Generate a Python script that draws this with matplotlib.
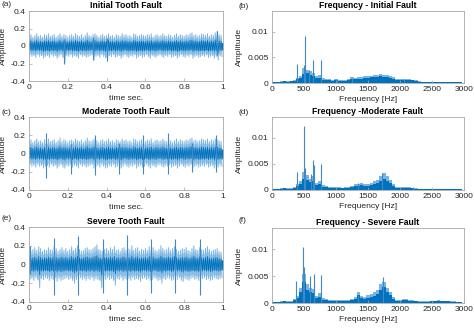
import numpy as np
import matplotlib
matplotlib.use("Agg")
import matplotlib.pyplot as plt

plt.rcParams['font.family'] = ['Liberation Sans', 'DejaVu Sans']

# ---------------- data ----------------
titles_time = ["Initial Tooth Fault", "Moderate Tooth Fault", "Severe Tooth Fault"]
titles_freq = ["Frequency - Initial Fault", "Frequency -Moderate Fault", "Frequency - Severe Fault"]
panel_labels = ["(a)", "(b)", "(c)", "(d)", "(e)", "(f)"]
time_ticks = [0, 0.2, 0.4, 0.6, 0.8, 1]
time_tick_labels = ["0", "0.2", "0.4", "0.6", "0.8", "1"]
amp_ticks = [-0.4, -0.2, 0, 0.2, 0.4]
amp_tick_labels = ["-0.4", "-0.2", "0", "0.2", "0.4"]
freq_ticks = [0, 500, 1000, 1500, 2000, 2500, 3000]
freq_tick_labels = ["0", "500", "1000", "1500", "2000", "2500", "3000"]
spec_ticks = [0, 0.005, 0.01]
spec_tick_labels = ["0", "0.005", "0.01"]

# time-signal envelopes (hundredths), one value per 0.01 s
a_up = [11,13,10,12,14,11,12,10,13,12, 14,11,12,13,10,12,14,11,13,12,
        10,12,13,11,14,12,11,13,10,12, 15,12,11,13,14,12,10,12,13,11,
        12,14,11,12,10,13,12,11,14,12, 13,11,12,10,14,13,11,12,13,12,
        11,13,12,14,10,12,13,11,12,14, 12,11,13,12,10,12,14,11,13,12,
        11,13,12,14,15,12,13,11,12,14, 13,12,14,11,13,12,15,17,13,12]
a_lo = [10,12,11,13,10,12,11,14,12,11, 13,10,12,11,14,12,10,13,19,11,
        12,10,13,11,12,14,10,12,11,13, 12,11,10,16,12,11,13,10,12,14,
        17,11,12,10,13,12,11,14,12,10, 12,13,11,12,10,14,12,11,13,12,
        10,12,14,11,12,13,11,10,12,13, 11,12,10,13,12,11,14,12,10,12,
        13,11,12,10,14,12,11,13,12,11, 12,10,13,12,11,14,12,16,11,12]
c_up = [13,15,12,14,16,13,14,12,15,14, 16,13,14,15,12,14,17,13,15,14,
        12,14,15,13,16,14,13,15,12,14, 17,14,13,15,16,14,12,14,15,13,
        14,16,13,14,12,15,14,13,16,14, 15,13,14,12,16,15,13,14,15,14,
        13,15,14,16,12,14,15,13,14,16, 14,13,15,14,12,14,16,13,15,14,
        13,15,14,16,17,14,15,13,14,16, 15,14,16,13,15,14,16,15,14,13]
c_lo = [12,14,13,15,12,14,13,16,14,13, 15,12,14,13,16,14,12,15,16,13,
        14,12,15,13,14,16,12,14,13,15, 14,13,12,16,14,13,15,12,14,16,
        15,13,14,12,15,14,13,16,14,12, 14,15,13,14,12,16,14,13,15,14,
        12,14,16,13,14,15,13,12,14,15, 13,14,12,15,14,13,16,14,12,14,
        15,13,14,12,16,14,13,15,14,13, 14,12,15,14,13,16,14,15,13,14]
e_up = [20,14,16,18,15,19,17,14,16,15, 18,16,15,20,17,14,16,18,15,17,
        14,16,19,15,17,20,16,14,15,17, 18,16,15,17,19,21,16,15,14,16,
        17,15,18,16,19,15,16,14,17,18, 15,17,16,20,15,17,18,14,16,15,
        17,15,19,16,18,15,14,16,20,17, 15,16,18,15,17,19,16,14,15,17,
        16,18,15,14,17,20,16,15,18,16, 15,17,19,16,14,15,16,17,14,13]
e_lo = [16,15,17,14,16,25,15,16,14,15, 17,15,16,14,18,15,17,16,15,14,
        16,15,17,20,16,15,14,16,15,17, 15,16,14,17,15,16,17,25,15,16,
        14,16,15,17,22,15,16,14,17,15, 16,15,17,14,16,15,16,18,15,14,
        16,15,17,16,14,15,17,16,20,15, 16,14,15,17,16,15,16,14,17,18,
        15,16,17,15,14,16,15,17,16,15, 14,16,15,17,16,14,15,16,15,14]
# dark core half-width (hundredths), one value per 0.05 s
a_core = [4,4,5,4,4,5,4,4,5,4,4,5,4,4,4,5,4,4,5,4,4]
c_core = [5,4,5,5,4,5,5,4,5,5,4,5,5,4,5,5,4,5,5,4,5]
e_core = [5,5,6,5,5,6,5,5,6,5,5,6,5,5,6,5,5,6,5,5,5]
# impulse spikes (time s, upper hundredths, lower hundredths)
a_spk_t = [0.18, 0.33, 0.40, 0.97]
a_spk_up = [8, 10, 9, 17]
a_spk_lo = [20, 16, 17, 10]
c_spk_t = [0.09, 0.215, 0.34, 0.465, 0.59, 0.715, 0.84, 0.965]
c_spk_up = [22, 10, 20, 12, 20, 22, 12, 20]
c_spk_lo = [27, 23, 24, 22, 22, 22, 20, 20]
e_spk_t = [0.005, 0.13, 0.255, 0.38, 0.505, 0.63, 0.755, 0.88]
e_spk_up = [20, 28, 30, 27, 31, 27, 27, 27]
e_spk_lo = [10, 32, 33, 30, 33, 30, 30, 32]

# spectra (units 1e-4), one bin per 50 Hz from 0 to 3000 Hz
b_dark = [1,1,1,2,3,2,3,4,7,9,18,20,15,13,9,10,6,5,5,3,5,4,3,4,5,8,7,8,8,10,
          10,11,12,12,13,12,11,10,8,6,5,6,6,5,5,4,2,2,1,1,1,1,1,1,1,1,1,1,1,1,0]
b_light = [1,1,2,3,4,3,4,6,10,14,30,26,24,20,14,15,9,8,7,5,7,6,5,6,7,11,10,11,11,13,
           13,14,15,16,17,16,15,13,11,8,7,8,8,7,6,5,3,2,2,1,1,1,1,1,1,1,1,1,1,1,0]
b_spk_f = [390, 505, 515, 580, 645, 770, 1010, 1250, 2070]
b_spk_a = [37, 35, 92, 25, 45, 44, 8, 10, 8]
d_dark = [1,1,1,2,3,2,2,4,8,12,22,20,15,18,9,12,6,5,4,3,4,3,3,3,4,5,7,8,9,8,
          8,9,11,13,17,22,17,13,8,3,3,4,4,4,3,2,1,1,1,1,1,1,1,1,1,1,1,1,1,1,0]
d_light = [1,1,2,3,4,3,3,6,12,18,34,28,22,26,14,18,9,7,6,5,6,5,4,5,6,8,11,12,14,11,
           12,14,17,20,27,33,26,20,12,5,5,6,6,6,4,3,2,2,1,1,1,1,1,1,1,1,1,1,1,1,0]
d_spk_f = [385, 500, 510, 610, 640, 650, 770, 1340, 1720, 2200]
d_spk_a = [34, 123, 43, 31, 58, 47, 50, 13, 33, 5]
f_dark = [1,1,1,2,3,2,2,5,10,20,40,25,20,18,10,12,6,5,4,3,4,4,3,4,4,5,8,15,10,8,
          10,12,14,16,25,30,20,15,8,4,4,5,5,4,3,3,2,2,2,2,3,3,4,3,3,3,2,2,1,1,0]
f_light = [1,1,2,3,4,3,4,7,14,28,55,35,28,26,14,18,9,7,6,5,6,6,5,6,6,8,12,20,14,12,
           15,17,20,24,35,40,28,21,12,6,6,8,7,6,5,4,3,3,3,3,4,4,5,4,4,4,3,3,2,1,0]
f_spk_f = [375, 490, 500, 600, 650, 660, 770, 1350, 1730]
f_spk_a = [42, 105, 67, 50, 55, 35, 53, 15, 48]

time_sets = [(a_up, a_lo, a_core, a_spk_t, a_spk_up, a_spk_lo),
             (c_up, c_lo, c_core, c_spk_t, c_spk_up, c_spk_lo),
             (e_up, e_lo, e_core, e_spk_t, e_spk_up, e_spk_lo)]
freq_sets = [(b_dark, b_light, b_spk_f, b_spk_a),
             (d_dark, d_light, d_spk_f, d_spk_a),
             (f_dark, f_light, f_spk_f, f_spk_a)]

# ---------------- layout ----------------
W, H = 474, 328
fig = plt.figure(figsize=(W / 100, H / 100), dpi=100)

def px_axes(x0, y0, x1, y1):
    return fig.add_axes([x0 / W, 1 - y1 / H, (x1 - x0) / W, (y1 - y0) / H])

left_rows = [(11, 81), (117, 190), (227, 302)]
right_rows = [(11, 83), (117, 190), (228, 303)]
label_pos = [((2, 5), (239, 6)), ((2, 113), (239, 113)), ((2, 219), (239, 220))]

DARK = '#0072BD'
LIGHT = '#7ab4e0'
PALE = '#b0d2ed'
MID = '#3f8ac6'
FG = '#262626'
FS = 6.1

def style(ax):
    for s in ax.spines.values():
        s.set_color('#a8a8a8')
        s.set_linewidth(0.6)
    ax.tick_params(direction='in', length=2, width=0.5, colors='#a8a8a8',
                   labelcolor=FG, labelsize=FS, pad=2.5)

for r in range(3):
    # time-domain panel
    up, lo, core, st, su, sl = time_sets[r]
    y0, y1 = left_rows[r]
    ax = px_axes(29, y0, 223, y1)
    n = len(up)
    tz, vz = [], []
    for i in range(n):
        tz += [i / n, (i + 0.5) / n]
        vz += [up[i] / 100, -lo[i] / 100]
    tu = np.arange(n) / n
    ax.fill_between(tu, -np.array(lo) / 100 * 0.75, np.array(up) / 100 * 0.75,
                    color=PALE, lw=0)
    ax.plot(tz, vz, color=LIGHT, lw=0.7)
    tc = np.linspace(0, 1, len(core))
    cv = np.array(core) / 100
    ax.fill_between(tc, -cv, cv, color=DARK, lw=0)
    ax.plot(tz, np.array(vz) * 0.45, color=DARK, lw=0.6)
    ax.vlines(st, -np.array(sl) / 100, np.array(su) / 100, color=MID, lw=0.8)
    ax.set_xlim(0, 1)
    ax.set_ylim(-0.4, 0.4)
    ax.set_xticks(time_ticks)
    ax.set_xticklabels(time_tick_labels)
    ax.set_yticks(amp_ticks)
    ax.set_yticklabels(amp_tick_labels)
    ax.set_xlabel("time sec.", fontsize=FS, color=FG, labelpad=2.5)
    ax.set_ylabel("Amplitude", fontsize=FS, color=FG)
    ax.yaxis.set_label_coords((6.5 - 29) / 194, 0.5)
    ax.set_title(titles_time[r], fontsize=6.2, fontweight='bold', color='#000000', pad=2)
    style(ax)

    # frequency panel
    dk, lt, sf, sa = freq_sets[r]
    y0, y1 = right_rows[r]
    ax2 = px_axes(272, y0, 464, y1)
    fb = np.arange(len(dk)) * 50
    ax2.bar(fb, np.array(lt) / 1e4, width=50, align='center', color=LIGHT, lw=0)
    ax2.bar(fb, np.array(dk) / 1e4, width=50, align='center', color=DARK, lw=0)
    ax2.vlines(sf, 0, np.array(sa) / 1e4, color=MID, lw=0.8)
    ax2.set_xlim(0, 3000)
    ax2.set_ylim(0, 0.014)
    ax2.set_xticks(freq_ticks)
    ax2.set_xticklabels(freq_tick_labels)
    ax2.set_yticks(spec_ticks)
    ax2.set_yticklabels(spec_tick_labels)
    ax2.set_xlabel("Frequency [Hz]", fontsize=FS, color=FG, labelpad=2)
    ax2.set_ylabel("Amplitude", fontsize=FS, color=FG)
    ax2.yaxis.set_label_coords((243 - 272) / 192, 0.5)
    ax2.set_title(titles_freq[r], fontsize=6.2, fontweight='bold', color='#000000', pad=2)
    style(ax2)

    (lx, ly), (rx, ry) = label_pos[r]
    fig.text(lx / W, 1 - ly / H, panel_labels[2 * r], fontsize=6, color=FG, va='center')
    fig.text(rx / W, 1 - ry / H, panel_labels[2 * r + 1], fontsize=6, color=FG, va='center')

fig.savefig("out.png", dpi=100)
